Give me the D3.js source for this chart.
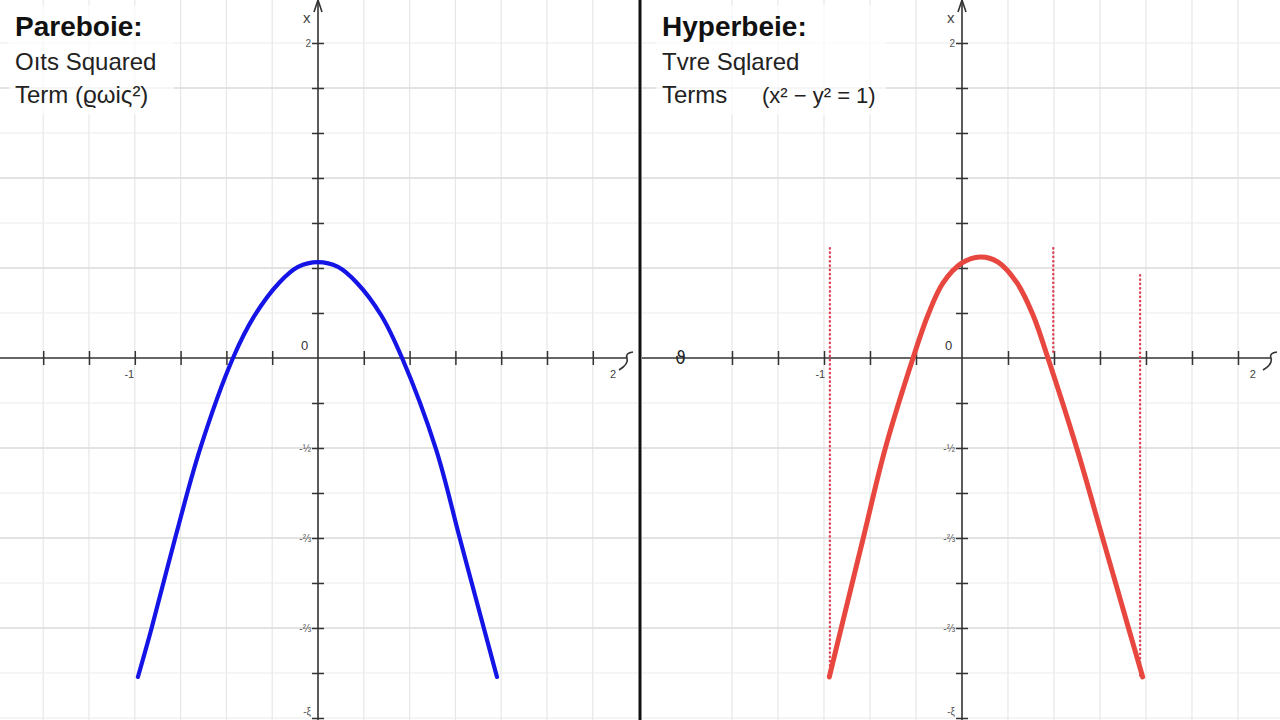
<!DOCTYPE html>
<html><head><meta charset="utf-8">
<script src="https://cdn.jsdelivr.net/npm/d3@7"></script>
<style>html,body{margin:0;padding:0;background:#fff;}svg{display:block;}</style>
</head><body>
<svg id="c" width="1280" height="720"></svg>
<script>
// ---- data (units: one tick = 0.25) ----
const parabolaX = [-0.983,-0.911,-0.781,-0.644,-0.464,-0.344,-0.213,-0.109,0,0.109,0.213,0.344,0.459,0.644,0.775,0.908,0.977];
const parabolaY = [-1.772,-1.511,-1.006,-0.506,0,0.239,0.417,0.506,0.533,0.506,0.417,0.239,0,-0.506,-1.006,-1.511,-1.772];
const hyperX = [-0.721,-0.659,-0.538,-0.418,-0.266,-0.185,-0.103,0,0.098,0.196,0.299,0.386,0.467,0.625,0.766,0.908,0.982];
const hyperY = [-1.772,-1.511,-1.006,-0.506,0,0.239,0.417,0.528,0.561,0.533,0.417,0.239,0,-0.506,-1.006,-1.511,-1.772];
const guideX = [-0.718, 0.496, 0.968];
const guideTop = [0.61, 0.61, 0.46];
const guideBottom = [-1.77, 0.02, -1.77];
const leftXTicks = [-1.5,-1.25,-1,-0.75,-0.5,-0.25,0,0.25,0.5,0.75,1,1.25,1.5];
const rightXTicks = [-1.25,-1,-0.75,-0.5,-0.25,0,0.25,0.5,0.75,1,1.25,1.5];
const yTicks = [-2,-1.75,-1.5,-1.25,-1,-0.75,-0.5,-0.25,0,0.25,0.5,0.75,1,1.25,1.5,1.75];
const yMajorGrid = [-1.5,-1,-0.5,0.5,1,1.5];
const yTickLabels = [{v:-0.5,t:"-½"},{v:-1,t:"-⅔"},{v:-1.5,t:"-⅔"},{v:-1.96,t:"-ξ"},{v:1.75,t:"2"}];
const leftXLabels = [{v:-1.03,t:"-1"},{v:1.61,t:"2"}];
const rightXLabels = [{v:-0.77,t:"-1"},{v:1.58,t:"2"}];
const leftTitle = ["Pareboie:", "Oıts Squared", "Term (ϱωiς²)"];
const rightTitle = ["Hyperbeie:", "Tvre Sqlared", "Terms", "(x² − y² = 1)"];

const svg = d3.select("#c");
const W = 1280, H = 720;
const y = d3.scaleLinear().domain([0,1]).range([358,178]);
const xL = d3.scaleLinear().domain([0,1]).range([318,501.2]);
const xR = d3.scaleLinear().domain([0,1]).range([962,1146]);

function panel(x, x0, x1, xTicks, xLabels, curlX) {
  const g = svg.append("g");
  // grid
  g.selectAll(".vg").data(xTicks.filter(d=>d!==0)).join("line")
    .attr("x1", d=>x(d)).attr("x2", d=>x(d)).attr("y1",0).attr("y2",H)
    .attr("stroke","#e7e7e7").attr("stroke-width",1.2);
  g.selectAll(".hg").data(yTicks.filter(d=>d!==0)).join("line")
    .attr("x1", x0).attr("x2", x1).attr("y1", d=>y(d)).attr("y2", d=>y(d))
    .attr("stroke","#ececec").attr("stroke-width",1.1);
  g.selectAll(".hgm").data(yMajorGrid).join("line")
    .attr("x1", x0).attr("x2", x1).attr("y1", d=>y(d)).attr("y2", d=>y(d))
    .attr("stroke","#dddddd").attr("stroke-width",1.3);
  // axes lines
  g.append("line").attr("x1", x0).attr("x2", curlX).attr("y1", y(0)).attr("y2", y(0))
    .attr("stroke","#333").attr("stroke-width",1.6);
  g.append("line").attr("x1", x(0)).attr("x2", x(0)).attr("y1", 2).attr("y2", H)
    .attr("stroke","#333").attr("stroke-width",1.6);
  // x ticks via axis
  const ax = d3.axisBottom(x).tickValues(xTicks.filter(d=>d!==0)).tickSize(14).tickFormat("");
  const axg = g.append("g").attr("transform", `translate(0,${y(0)-7})`).call(ax);
  axg.select(".domain").remove();
  axg.selectAll(".tick line").attr("stroke","#333").attr("stroke-width",1.5);
  // y ticks via axis
  const ay = d3.axisRight(y).tickValues(yTicks.filter(d=>d!==0)).tickSize(12).tickFormat("");
  const ayg = g.append("g").attr("transform", `translate(${x(0)-6},0)`).call(ay);
  ayg.select(".domain").remove();
  ayg.selectAll(".tick line").attr("stroke","#333").attr("stroke-width",1.5);
  // arrows
  g.append("path").attr("d", `M${x(0)-4},${12} L${x(0)},0 L${x(0)+4},${12}`)
    .attr("fill","none").attr("stroke","#333").attr("stroke-width",1.6);
  g.append("path").attr("d", `M${curlX-8},${y(0)+12} Q${curlX+2},${y(0)+6} ${curlX},${y(0)} Q${curlX-2},${y(0)-5} ${curlX+6},${y(0)-6}`)
    .attr("fill","none").attr("stroke","#333").attr("stroke-width",1.6);
  // labels
  g.append("text").attr("x", x(0)-15).attr("y", 23).text("x")
    .attr("font-family","Liberation Sans").attr("font-size",15).attr("fill","#444");
  g.append("text").attr("x", x(0)-17).attr("y", y(0)-8).text("0")
    .attr("font-family","Liberation Sans").attr("font-size",13).attr("fill","#333");
  g.selectAll(".yl").data(yTickLabels).join("text")
    .attr("x", x(0)-7).attr("y", d=>y(d.v)+4).attr("text-anchor","end").text(d=>d.t)
    .attr("font-family","Liberation Sans").attr("font-size",10).attr("fill","#555");
  g.selectAll(".xl").data(xLabels).join("text")
    .attr("x", d=>x(d.v)).attr("y", y(0)+20).attr("text-anchor","middle").text(d=>d.t)
    .attr("font-family","Liberation Sans").attr("font-size",11).attr("fill","#444");
  return g;
}

function curve(g, x, ptsX, ptsY, color, width) {
  const pts = ptsX.map((d,i)=>[d, ptsY[i]]);
  g.append("path").datum(pts)
    .attr("d", d3.line().x(d=>x(d[0])).y(d=>y(d[1])).curve(d3.curveCatmullRom.alpha(0.5)))
    .attr("fill","none").attr("stroke",color).attr("stroke-width",width)
    .attr("stroke-linecap","round").attr("stroke-linejoin","round");
}

const gl = panel(xL, 0, 638, leftXTicks, leftXLabels, 627);
curve(gl, xL, parabolaX, parabolaY, "#1414e6", 4.2);
const gr = panel(xR, 642, 1280, rightXTicks, rightXLabels, 1271);

// guide lines (right panel)
gr.selectAll(".guide").data(guideX).join("line")
  .attr("x1", d=>xR(d)).attr("x2", d=>xR(d))
  .attr("y1", (d,i)=>y(guideTop[i])).attr("y2", (d,i)=>y(guideBottom[i]))
  .attr("stroke","#de4356").attr("stroke-width",2.4).attr("stroke-linecap","round")
  .attr("stroke-dasharray","0.3,4");
curve(gr, xR, hyperX, hyperY, "#e8473f", 5);

// zero-ish glyph on right x axis
gr.append("text").attr("x", xR(-1.53)).attr("y", y(0)+6).attr("text-anchor","middle").text("ϑ")
  .attr("font-family","DejaVu Sans").attr("font-size",17).attr("fill","#222");

// divider
svg.append("line").attr("x1",640).attr("x2",640).attr("y1",0).attr("y2",H)
  .attr("stroke","#111").attr("stroke-width",3);

// titles
function title(x0, lines, boxW) {
  svg.append("rect").attr("x", x0-6).attr("y", 5).attr("width", boxW).attr("height", 110)
    .attr("fill","#fff").attr("opacity",0.7);
  svg.append("text").attr("x", x0).attr("y", 36).text(lines[0])
    .attr("font-family","Liberation Sans").attr("font-weight","bold").attr("font-size",28).attr("fill","#111");
  svg.append("text").attr("x", x0).attr("y", 70).text(lines[1])
    .attr("font-family","Liberation Sans").attr("font-size",24).attr("fill","#222");
  svg.append("text").attr("x", x0).attr("y", 103).text(lines[2])
    .attr("font-family","Liberation Sans").attr("font-size",24).attr("fill","#222");
}
title(15, leftTitle, 165);
title(662, rightTitle, 230);
svg.append("text").attr("x", 762).attr("y", 103).text(rightTitle[3])
  .attr("font-family","Liberation Sans").attr("font-size",22).attr("fill","#222");
</script>
</body></html>
